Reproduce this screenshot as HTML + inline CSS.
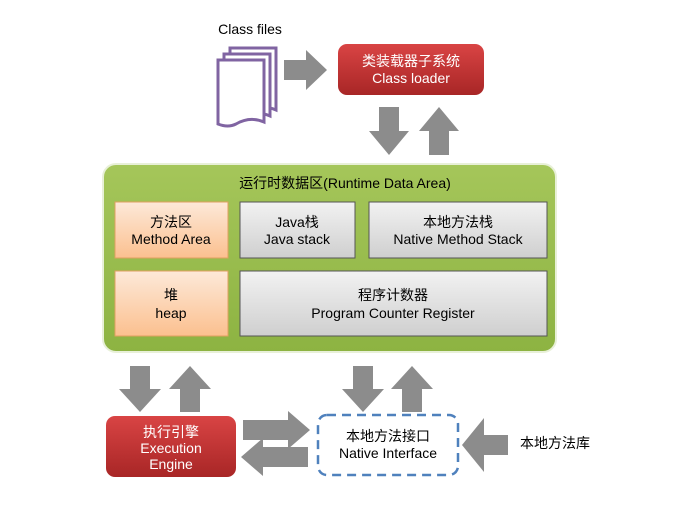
<!DOCTYPE html>
<html><head><meta charset="utf-8"><style>
body{margin:0;background:#fff;}
svg text{font-family:"Liberation Sans","Noto Sans CJK SC",sans-serif;}
</style></head><body>
<svg width="697" height="502" viewBox="0 0 697 502" xmlns="http://www.w3.org/2000/svg">
<defs>
<linearGradient id="red" x1="0" y1="0" x2="0" y2="1"><stop offset="0" stop-color="#d94444"/><stop offset="1" stop-color="#a82626"/></linearGradient>
<linearGradient id="gray" x1="0" y1="0" x2="0" y2="1"><stop offset="0" stop-color="#f2f2f2"/><stop offset="1" stop-color="#cfcfcf"/></linearGradient>
<linearGradient id="orange" x1="0" y1="0" x2="0" y2="1"><stop offset="0" stop-color="#fde9d9"/><stop offset="1" stop-color="#fbc08f"/></linearGradient>
<linearGradient id="green" x1="0" y1="0" x2="0" y2="1"><stop offset="0" stop-color="#a5c65a"/><stop offset="1" stop-color="#8db342"/></linearGradient>
</defs>
<text x="250" y="34" font-size="14" text-anchor="middle" fill="#000">Class files</text>
<g fill="#fff" stroke="#8064a2" stroke-width="3">
<path d="M230 48 H276 V110 Q262 104 248 112 Q240 116 230 112 Z"/>
<path d="M224 54 H270 V116 Q256 110 242 118 Q234 122 224 118 Z"/>
<path d="M218 60 H264 V122 Q250 116 236 124 Q228 128 218 124 Z"/>
</g>
<g fill="#8c8c8c">
<polygon points="284,60 306,60 306,50 327,70 306,90 306,80 284,80"/>
<polygon points="379,107 399,107 399,131 409,131 389,155 369,131 379,131"/>
<polygon points="429,155 449,155 449,131 459,131 439,107 419,131 429,131"/>
<polygon points="130,366 150,366 150,389 161,389 140,412 119,389 130,389"/>
<polygon points="180,412 200,412 200,389 211,389 190,366 169,389 180,389"/>
<polygon points="353,366 373,366 373,389 384,389 363,412 342,389 353,389"/>
<polygon points="402,412 422,412 422,389 433,389 412,366 391,389 402,389"/>
<polygon points="243,420 288,420 288,411 310,430 288,449 288,440 243,440"/>
<polygon points="308,447 263,447 263,438 241,457 263,476 263,467 308,467"/>
<polygon points="508,435 484,435 484,418 462,445 484,472 484,455 508,455"/>
</g>
<rect x="338" y="44" width="146" height="51" rx="9" fill="url(#red)"/>
<text x="411" y="66" font-size="14" fill="#fff" text-anchor="middle">类装载器子系统</text>
<text x="411" y="83" font-size="14" fill="#fff" text-anchor="middle">Class loader</text>
<rect x="103" y="164" width="453" height="188" rx="13" fill="url(#green)" stroke="#e8f0d8" stroke-width="2"/>
<text x="345" y="188" font-size="14" text-anchor="middle" fill="#000">运行时数据区(Runtime Data Area)</text>
<rect x="115" y="202" width="113" height="56" fill="url(#orange)" stroke="#e0a060"/>
<text x="171" y="227" font-size="14" text-anchor="middle">方法区</text>
<text x="171" y="244" font-size="14" text-anchor="middle">Method Area</text>
<rect x="240" y="202" width="115" height="56" fill="url(#gray)" stroke="#555"/>
<text x="297" y="227" font-size="14" text-anchor="middle">Java栈</text>
<text x="297" y="244" font-size="14" text-anchor="middle">Java stack</text>
<rect x="369" y="202" width="178" height="56" fill="url(#gray)" stroke="#555"/>
<text x="458" y="227" font-size="14" text-anchor="middle">本地方法栈</text>
<text x="458" y="244" font-size="14" text-anchor="middle">Native Method Stack</text>
<rect x="115" y="271" width="113" height="65" fill="url(#orange)" stroke="#e0a060"/>
<text x="171" y="300" font-size="14" text-anchor="middle">堆</text>
<text x="171" y="318" font-size="14" text-anchor="middle">heap</text>
<rect x="240" y="271" width="307" height="65" fill="url(#gray)" stroke="#555"/>
<text x="393" y="300" font-size="14" text-anchor="middle">程序计数器</text>
<text x="393" y="318" font-size="14" text-anchor="middle">Program Counter Register</text>
<rect x="106" y="416" width="130" height="61" rx="9" fill="url(#red)"/>
<text x="171" y="437" font-size="14" fill="#fff" text-anchor="middle">执行引擎</text>
<text x="171" y="453" font-size="14" fill="#fff" text-anchor="middle">Execution</text>
<text x="171" y="469" font-size="14" fill="#fff" text-anchor="middle">Engine</text>
<rect x="318" y="415" width="140" height="60" rx="9" fill="#fff" stroke="#4f81bd" stroke-width="2.5" stroke-dasharray="9,6"/>
<text x="388" y="441" font-size="14" text-anchor="middle">本地方法接口</text>
<text x="388" y="458" font-size="14" text-anchor="middle">Native Interface</text>
<text x="555" y="448" font-size="14" text-anchor="middle">本地方法库</text>
</svg>
</body></html>
